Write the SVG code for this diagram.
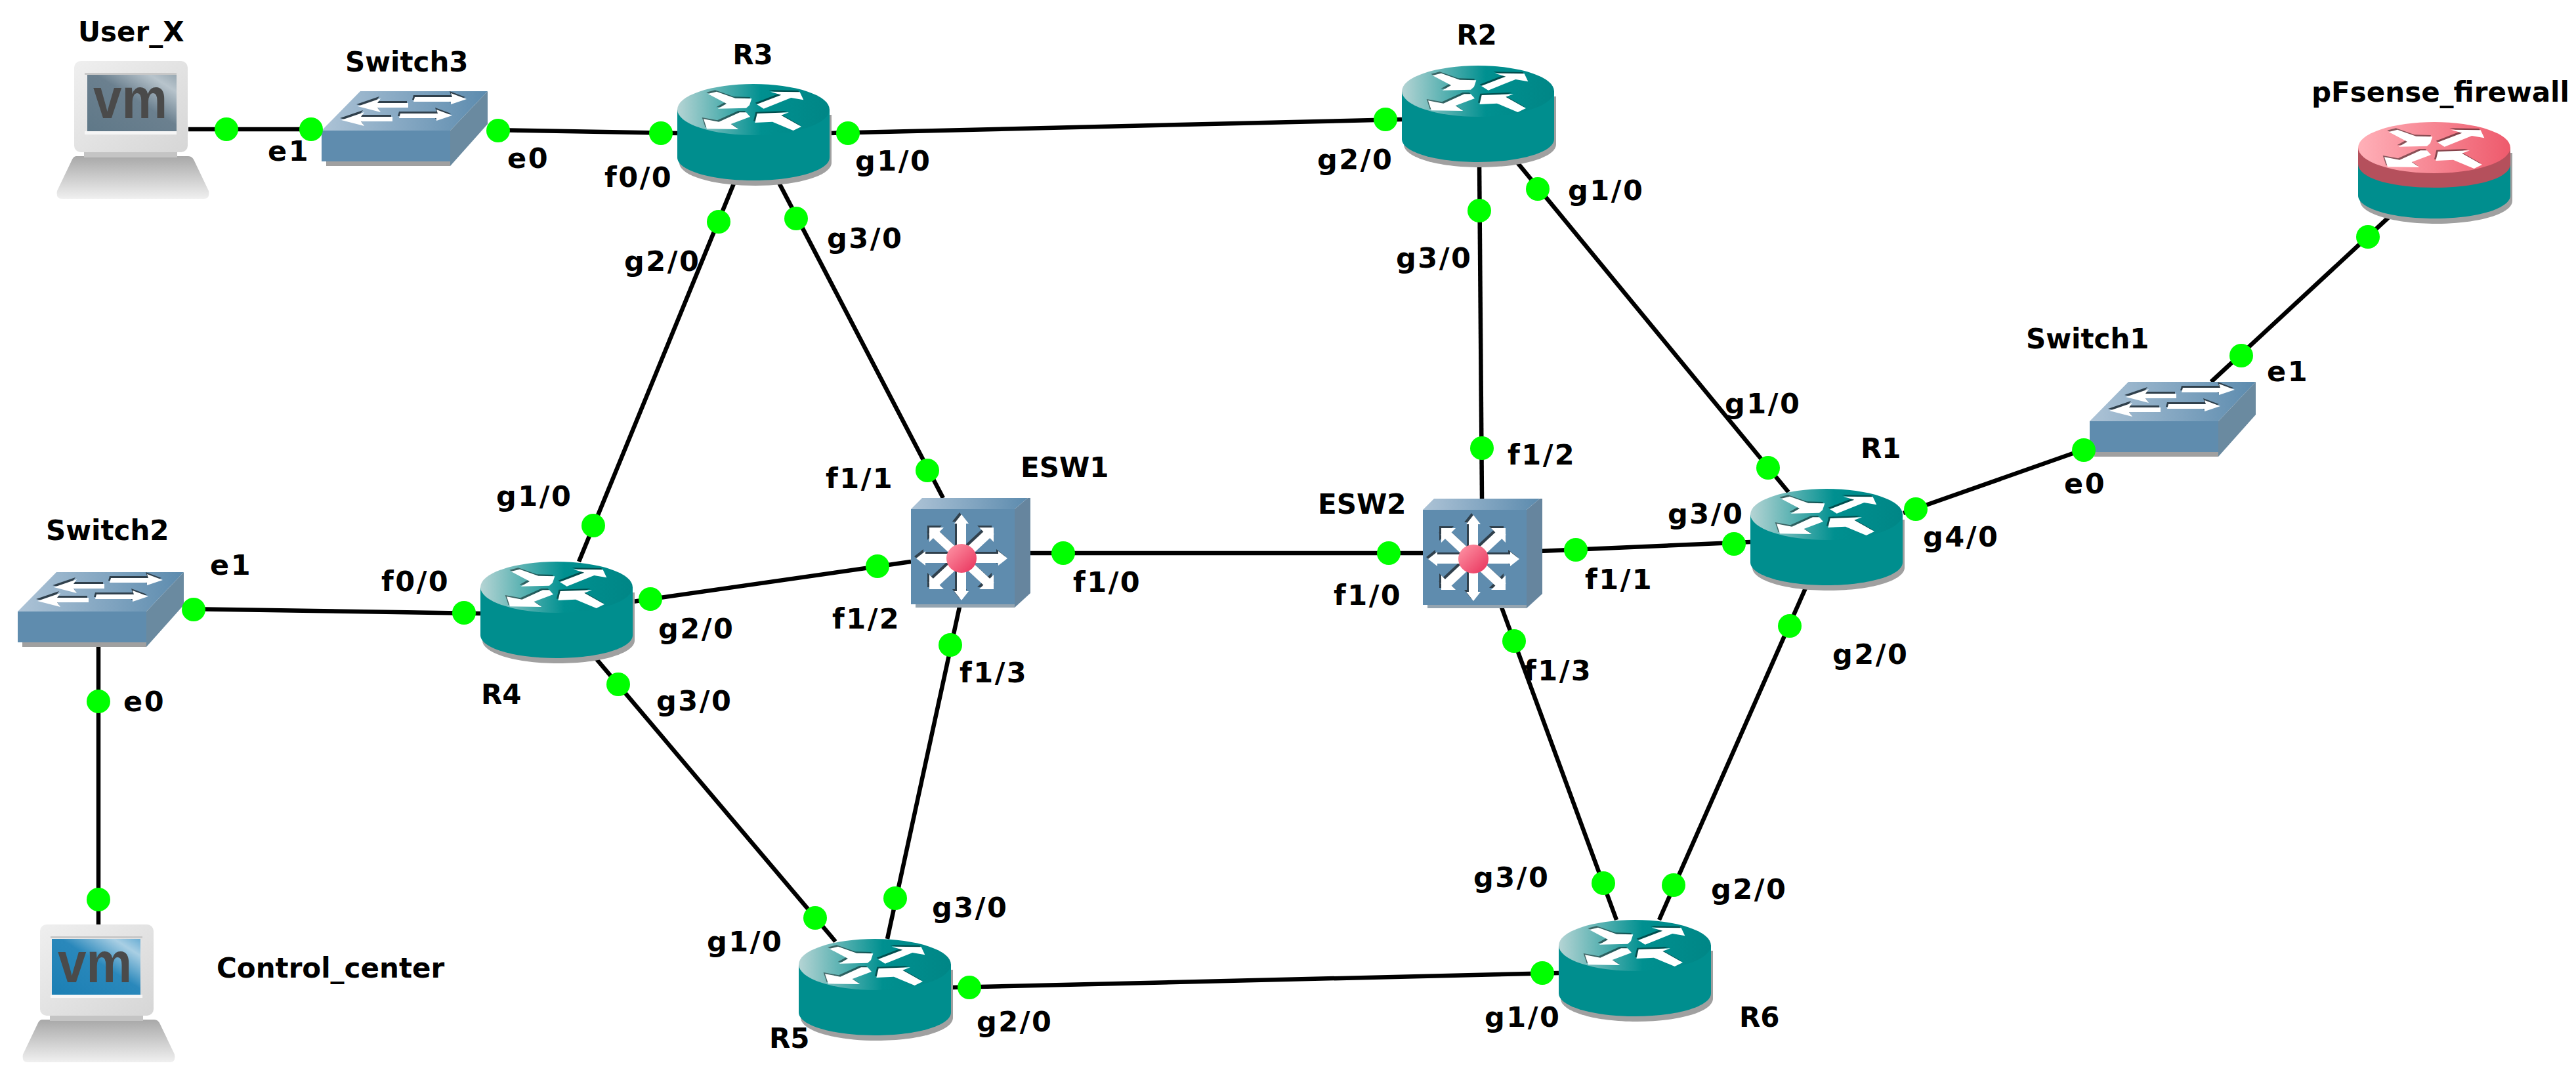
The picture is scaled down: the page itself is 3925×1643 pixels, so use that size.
<svg xmlns="http://www.w3.org/2000/svg" xmlns:xlink="http://www.w3.org/1999/xlink" width="3925" height="1643" viewBox="0 0 3925 1643">
<style>
text{font-family:"DejaVu Sans","Liberation Sans",sans-serif;font-weight:700;font-size:42px;fill:#000}
.if{font-size:43px;letter-spacing:2.5px}
.vm{font-family:"Liberation Sans",sans-serif;font-size:88px;fill:#4a4a4a}
.lk line{stroke:#000;stroke-width:6.5}
.dot circle{fill:#00ff00}
</style>
<defs>
<linearGradient id="rt" x1="0" x2="1" y1="0" y2="0"><stop offset="0" stop-color="#b5d4d4"/><stop offset=".55" stop-color="#009090"/><stop offset="1" stop-color="#008686"/></linearGradient>
<linearGradient id="rr" x1="0" x2="1" y1="0" y2="0"><stop offset="0" stop-color="#ffb0b8"/><stop offset="1" stop-color="#ee5a6c"/></linearGradient>
<linearGradient id="st" x1="0" x2="1" y1="0" y2="0"><stop offset="0" stop-color="#adc3d6"/><stop offset="1" stop-color="#5c8bae"/></linearGradient>
<linearGradient id="rd" x1="0" x2="1" y1="0" y2="1"><stop offset="0" stop-color="#ff98a8"/><stop offset="1" stop-color="#e8305a"/></linearGradient>
<linearGradient id="base" x1="0" x2="0" y1="0" y2="1"><stop offset="0" stop-color="#a8a8a8"/><stop offset="1" stop-color="#f0f0f0"/></linearGradient>
<linearGradient id="mon" x1="0" x2="1" y1="0" y2="1"><stop offset="0" stop-color="#efefef"/><stop offset="1" stop-color="#d6d6d6"/></linearGradient>
<linearGradient id="sg" x1="0" x2="1" y1="1" y2="0"><stop offset="0" stop-color="#5f7888"/><stop offset=".55" stop-color="#6b808f"/><stop offset=".85" stop-color="#b8c4cc"/><stop offset="1" stop-color="#98a8b2"/></linearGradient>
<linearGradient id="sb" x1="0" x2="1" y1="1" y2="0"><stop offset="0" stop-color="#1b7fb4"/><stop offset=".55" stop-color="#2a88bb"/><stop offset=".85" stop-color="#a9cfe4"/><stop offset="1" stop-color="#6aaed4"/></linearGradient>
<path id="rb" d="M0 39V112C0 132 52 147 116 147S232 132 232 112V39Z"/>
<g id="rshape">
<polygon points="355,160 395,150 480,180 555,182 545,212 530,225 400,228 440,205"/>
<polygon points="640,150 775,152 792,188 735,178 610,228 578,208 690,165"/>
<polygon points="530,245 548,265 460,298 495,322 350,320 335,275 405,288 500,245"/>
<polygon points="580,250 725,245 690,258 782,310 745,328 650,288 570,292"/>
</g>
<g id="rarrows" transform="scale(.3333) translate(-215 -115)">
<use xlink:href="#rshape" href="#rshape" x="-7" y="-7" fill="#000" fill-opacity=".45"/>
<use xlink:href="#rshape" href="#rshape" fill="#fff"/>
</g>
<g id="router">
<use xlink:href="#rb" href="#rb" x="3" y="8" fill="#a0a0a0"/>
<use xlink:href="#rb" href="#rb" fill="#008e8e"/>
<ellipse cx="116" cy="39" rx="116" ry="39" fill="url(#rt)"/>
<use xlink:href="#rarrows" href="#rarrows"/>
</g>
<g id="sshape">
<polygon points="142,9 199,9 197,3 221,12 197,20 197,16 140,16"/>
<polygon points="55,23 90,11 85,18 132,18 132,25 85,25 90,32"/>
<polygon points="120,34 177,34 175,28 199,37 175,45 175,41 118,41"/>
<polygon points="30,44 65,32 60,39 108,39 108,46 60,46 65,53"/>
</g>
<g id="switch">
<polygon points="7,107 196,107 196,114 7,114" fill="#a0a0a0"/>
<polygon points="0,60 196,60 196,107 0,107" fill="#5f8cae"/>
<polygon points="0,60 59,0 253,0 196,60" fill="url(#st)"/>
<polygon points="196,60 253,0 253,50 196,114" fill="#6a8aa0"/>
<use xlink:href="#sshape" href="#sshape" x="-2" y="-3" fill="#30404c"/>
<use xlink:href="#sshape" href="#sshape" fill="#fff"/>
</g>
<g id="eshape">
<g stroke-width="14">
<line x1="77" y1="92" x2="77" y2="38"/><line x1="77" y1="92" x2="77" y2="146"/>
<line x1="77" y1="92" x2="20" y2="92"/><line x1="77" y1="92" x2="134" y2="92"/>
<line x1="77" y1="92" x2="32" y2="50"/><line x1="77" y1="92" x2="122" y2="50"/>
<line x1="77" y1="92" x2="32" y2="134"/><line x1="77" y1="92" x2="122" y2="134"/>
</g>
<polygon points="77,25 66,39 88,39" stroke="none"/><polygon points="77,156 66,142 88,142" stroke="none"/><polygon points="8,92 22,81 22,103" stroke="none"/><polygon points="147,92 133,81 133,103" stroke="none"/>
<polygon points="28,45 50,45 28,67" stroke="none"/><polygon points="126,45 104,45 126,67" stroke="none"/><polygon points="28,139 50,139 28,117" stroke="none"/><polygon points="126,139 104,139 126,117" stroke="none"/>
</g>
<g id="esw">
<polygon points="7,160 158,160 158,167 7,167" fill="#94a4b0"/>
<polygon points="0,17 158,17 158,162 0,162" fill="#5f8cae"/>
<polygon points="0,17 17,0 178,0 158,17" fill="url(#st)"/>
<polygon points="158,17 178,0 182,0 182,145 158,167" fill="#66859e"/>
<use xlink:href="#eshape" href="#eshape" x="-3" y="-3" fill="#30404c" stroke="#30404c"/>
<use xlink:href="#eshape" href="#eshape" fill="#fff" stroke="#fff"/>
<ellipse cx="77" cy="92" rx="23" ry="22" fill="url(#rd)"/>
</g>
<g id="vmbody">
<path d="M29 145H200Q206 145 209 152L231 198Q233 210 224 210H7Q-2 210 0 198L22 152Q25 145 29 145Z" fill="url(#base)"/>
<rect x="41" y="137" width="142" height="10" fill="#c4c4c4"/>
<rect x="26" y="0" width="173" height="139" rx="10" fill="url(#mon)"/>
<rect x="42" y="18" width="140" height="3" fill="#c8c8c8"/>
<rect x="42" y="107" width="140" height="5" fill="#f6f6f6"/>
</g>
</defs>
<rect width="3925" height="1643" fill="#fff"/>
<g id="connectors" class="lk">
<line x1="287" y1="197" x2="490" y2="197"/>
<line x1="743" y1="198" x2="1032" y2="203"/>
<line x1="1263" y1="203" x2="2136" y2="182"/>
<line x1="1120" y1="275" x2="882" y2="856"/>
<line x1="1185" y1="275" x2="1437" y2="759"/>
<line x1="964" y1="917" x2="1388" y2="856"/>
<line x1="1568" y1="843" x2="2168" y2="843"/>
<line x1="1462" y1="925" x2="1352" y2="1431"/>
<line x1="905" y1="1000" x2="1273" y2="1435"/>
<line x1="280" y1="928" x2="732" y2="935"/>
<line x1="150" y1="984" x2="150" y2="1409"/>
<line x1="1449" y1="1505" x2="2375" y2="1483"/>
<line x1="2254" y1="247" x2="2258" y2="760"/>
<line x1="2308" y1="243" x2="2725" y2="750"/>
<line x1="2346" y1="840" x2="2667" y2="826"/>
<line x1="2900" y1="782" x2="3184" y2="682"/>
<line x1="3369" y1="582" x2="3643" y2="328"/>
<line x1="2753" y1="892" x2="2528" y2="1402"/>
<line x1="2287" y1="923" x2="2463" y2="1402"/>
</g>
<g id="User_X"><use xlink:href="#vmbody" href="#vmbody" x="87" y="93"/><rect x="133" y="114" width="136" height="86" fill="url(#sg)"/><text class="vm" x="142" y="180" textLength="113" lengthAdjust="spacingAndGlyphs">vm</text><text x="119" y="63">User_X</text></g>
<g id="Control_center"><use xlink:href="#vmbody" href="#vmbody" x="35" y="1409"/><rect x="79" y="1431" width="135" height="85" fill="url(#sb)"/><text class="vm" x="88" y="1497" textLength="113" lengthAdjust="spacingAndGlyphs">vm</text><text x="330" y="1490">Control_center</text></g>
<g id="Switch3"><use xlink:href="#switch" href="#switch" x="490" y="139"/><text x="526" y="109">Switch3</text></g>
<g id="Switch2"><use xlink:href="#switch" href="#switch" x="27" y="872"/><text x="70" y="823">Switch2</text></g>
<g id="Switch1"><use xlink:href="#switch" href="#switch" x="3184" y="582"/><text x="3087" y="531">Switch1</text></g>
<g id="R3"><use xlink:href="#router" href="#router" x="1032" y="128"/><text x="1147" y="98" text-anchor="middle">R3</text></g>
<g id="R2"><use xlink:href="#router" href="#router" x="2136" y="100"/><text x="2250" y="68" text-anchor="middle">R2</text></g>
<g id="R1"><use xlink:href="#router" href="#router" x="2667" y="745"/><text x="2835" y="698">R1</text></g>
<g id="R4"><use xlink:href="#router" href="#router" x="732" y="856"/><text x="733" y="1073">R4</text></g>
<g id="R5"><use xlink:href="#router" href="#router" x="1217" y="1431"/><text x="1172" y="1597">R5</text></g>
<g id="R6"><use xlink:href="#router" href="#router" x="2375" y="1402"/><text x="2650" y="1565">R6</text></g>
<g id="pFsense_firewall">
<use xlink:href="#rb" href="#rb" x="3596" y="194" fill="#a0a0a0"/>
<use xlink:href="#rb" href="#rb" x="3593" y="186" fill="#008e8e"/>
<path d="M3593 225V250C3593 272 3645 286 3709 286S3825 272 3825 250V225Z" fill="#b5505c"/>
<ellipse cx="3709" cy="225" rx="116" ry="39" fill="url(#rr)"/>
<use xlink:href="#rarrows" href="#rarrows" x="3593" y="186"/>
<text x="3522" y="155">pFsense_firewall</text>
</g>
<g id="ESW1"><use xlink:href="#esw" href="#esw" x="1388" y="759"/><text x="1555" y="727">ESW1</text></g>
<g id="ESW2"><use xlink:href="#esw" href="#esw" x="2168" y="760"/><text x="2008" y="783">ESW2</text></g>
<g id="ports" class="dot">
<circle cx="345" cy="197" r="18"/><circle cx="474" cy="197" r="18"/><circle cx="759" cy="199" r="18"/><circle cx="1007" cy="203" r="18"/>
<circle cx="1292" cy="203" r="18"/><circle cx="2111" cy="182" r="18"/><circle cx="1095" cy="338" r="18"/><circle cx="1213" cy="333" r="18"/>
<circle cx="904" cy="801" r="18"/><circle cx="1413" cy="717" r="18"/><circle cx="1337" cy="863" r="18"/><circle cx="991" cy="913" r="18"/>
<circle cx="1620" cy="843" r="18"/><circle cx="2116" cy="843" r="18"/><circle cx="1448" cy="983" r="18"/><circle cx="1364" cy="1369" r="18"/>
<circle cx="942" cy="1043" r="18"/><circle cx="1242" cy="1399" r="18"/><circle cx="707" cy="934" r="18"/><circle cx="295" cy="929" r="18"/>
<circle cx="150" cy="1069" r="18"/><circle cx="150" cy="1371" r="18"/><circle cx="1477" cy="1505" r="18"/><circle cx="2350" cy="1483" r="18"/>
<circle cx="2258" cy="683" r="18"/><circle cx="2254" cy="321" r="18"/><circle cx="2343" cy="288" r="18"/><circle cx="2694" cy="713" r="18"/>
<circle cx="2401" cy="838" r="18"/><circle cx="2642" cy="829" r="18"/><circle cx="2919" cy="776" r="18"/><circle cx="3175" cy="686" r="18"/>
<circle cx="3415" cy="542" r="18"/><circle cx="3608" cy="361" r="18"/><circle cx="2727" cy="954" r="18"/><circle cx="2550" cy="1349" r="18"/>
<circle cx="2443" cy="1346" r="18"/><circle cx="2307" cy="977" r="18"/>
</g>
<g id="port-labels">
<text class="if" x="408" y="245">e1</text><text class="if" x="773" y="256">e0</text><text class="if" x="921" y="285">f0/0</text>
<text class="if" x="1303" y="260">g1/0</text><text class="if" x="951" y="413">g2/0</text><text class="if" x="1260" y="378">g3/0</text>
<text class="if" x="2007" y="258">g2/0</text><text class="if" x="2389" y="305">g1/0</text><text class="if" x="2127" y="408">g3/0</text>
<text class="if" x="3454" y="581">e1</text><text class="if" x="3145" y="752">e0</text>
<text class="if" x="2628" y="630">g1/0</text><text class="if" x="2541" y="798">g3/0</text><text class="if" x="2930" y="833">g4/0</text><text class="if" x="2792" y="1012">g2/0</text>
<text class="if" x="2297" y="708">f1/2</text><text class="if" x="1258" y="744">f1/1</text><text class="if" x="1268" y="958">f1/2</text><text class="if" x="1635" y="902">f1/0</text><text class="if" x="1462" y="1040">f1/3</text>
<text class="if" x="1003" y="973">g2/0</text><text class="if" x="1000" y="1083">g3/0</text><text class="if" x="756" y="771">g1/0</text><text class="if" x="581" y="901">f0/0</text>
<text class="if" x="320" y="876">e1</text><text class="if" x="188" y="1084">e0</text>
<text class="if" x="2032" y="922">f1/0</text><text class="if" x="2415" y="898">f1/1</text><text class="if" x="2322" y="1037">f1/3</text>
<text class="if" x="2245" y="1352">g3/0</text><text class="if" x="2607" y="1370">g2/0</text><text class="if" x="2262" y="1565">g1/0</text>
<text class="if" x="1420" y="1398">g3/0</text><text class="if" x="1077" y="1450">g1/0</text><text class="if" x="1488" y="1572">g2/0</text>
</g>
</svg>
